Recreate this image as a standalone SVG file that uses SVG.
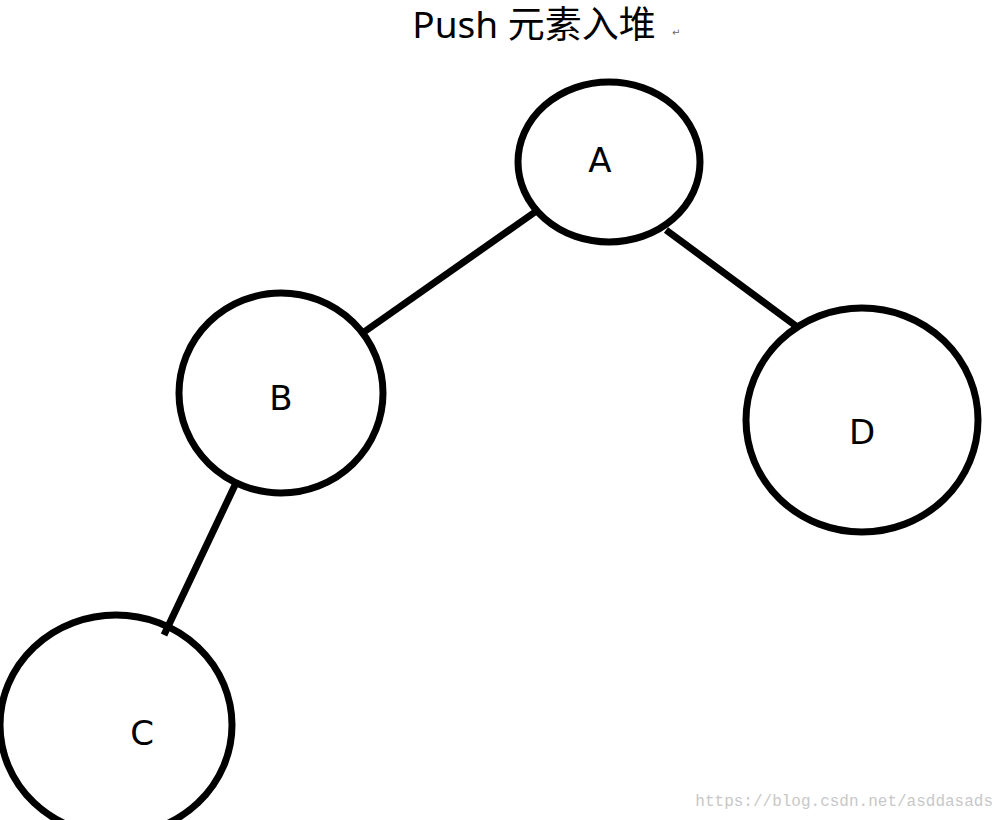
<svg xmlns="http://www.w3.org/2000/svg" width="1005" height="820" viewBox="0 0 1005 820">
<style>
.n{fill:none;stroke:#000;stroke-width:7}
.l{font-family:"DejaVu Sans","Liberation Sans",sans-serif;font-size:34px;fill:#000;text-anchor:middle;dominant-baseline:central}
.e{stroke:#000;stroke-width:7}
</style>
<rect width="1005" height="820" fill="#fff"/>
<text x="534" y="38" font-family="'Noto Sans','Noto Sans CJK SC',sans-serif" font-size="37" text-anchor="middle">Push 元素入堆</text>
<text x="672" y="36" font-family="'DejaVu Sans',sans-serif" font-size="10" fill="#666">↵</text>
<g id="edges">
<line class="e" x1="535" y1="212" x2="364" y2="332"/>
<line class="e" x1="666" y1="230" x2="796" y2="326"/>
<line class="e" x1="236" y1="483" x2="164" y2="635"/>
</g>
<g id="A"><ellipse class="n" cx="609" cy="162" rx="91" ry="80"/><text class="l" x="600" y="160">A</text></g>
<g id="B"><ellipse class="n" cx="281" cy="393" rx="102" ry="100"/><text class="l" x="281" y="398">B</text></g>
<g id="D"><ellipse class="n" cx="862" cy="420" rx="116" ry="112"/><text class="l" x="862" y="432">D</text></g>
<g id="C"><ellipse class="n" cx="116" cy="725" rx="116" ry="110"/><text class="l" x="142" y="733">C</text></g>
<text x="993" y="806" font-family="'Liberation Mono',monospace" font-size="16" fill="#c8c8c8" text-anchor="end">https://blog.csdn.net/asddasads</text>
</svg>
